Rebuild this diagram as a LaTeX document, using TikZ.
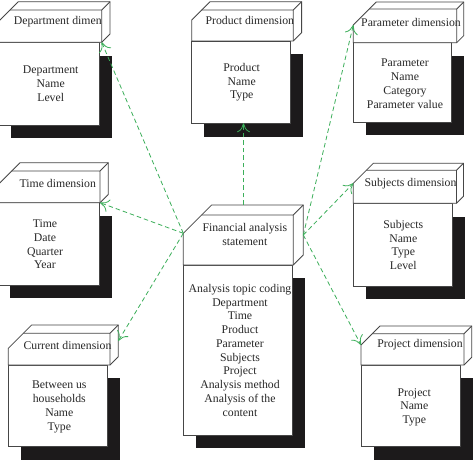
\documentclass[tikz,border=0pt]{standalone}
\usepackage{fontspec}
\setmainfont{Liberation Serif}
\usetikzlibrary{arrows.meta}
\definecolor{linec}{RGB}{70,70,70}
\definecolor{shadowc}{RGB}{28,26,27}
\definecolor{textc}{RGB}{40,40,40}
\definecolor{arrowc}{RGB}{60,175,90}
\tikzset{
  boxline/.style={draw=linec,line width=0.8bp},
  txt/.style={text=textc,inner sep=0pt,font=\fontsize{11.8}{13.8}\selectfont,align=center},
  link/.style={draw=arrowc,line width=0.8bp,dash pattern=on 4.5bp off 3bp,
    -{Computer Modern Rightarrow[length=9bp,width=13bp,line width=0.8bp]}},
}
% #1 name, #2 L, #3 T (back top), #4 R (front right), #5 depth,
% #6 chamfer left y, #7 header bottom, #8 body bottom, #9 body right
\newcommand\dimbox[9]{%
  \pgfmathsetmacro\bxTf{#3+#5}%
  \pgfmathsetmacro\bxXf{#2+#6-\bxTf}%
  \pgfmathsetmacro\bxXt{#2+#6-#3}%
  \pgfmathsetmacro\bxRo{#4+#5}%
  \pgfmathsetmacro\bxHs{#7-#5}%
  \pgfmathsetmacro\bxSm{(#3+\bxHs)/2}%
  \fill[shadowc] (#2+12.7,#7+13.3) rectangle (#9+12.7,#8+13.3);
  \draw[boxline,fill=white] (#2,#7) rectangle (#9,#8);
  \draw[boxline,fill=white] (#2,#7) -- (#2,#6) -- (\bxXt,#3) -- (\bxRo,#3)
     -- (\bxRo,\bxHs) -- (#4,#7) -- cycle;
  \draw[boxline] (\bxXf,\bxTf) -- (#4,\bxTf) -- (\bxRo,#3) (#4,\bxTf) -- (#4,#7);
  \coordinate (#1-chamfer) at (#2,#6);
  \coordinate (#1-hbr) at (#4,#7);
  \coordinate (#1-side) at (\bxRo,\bxSm);
}
\begin{document}
\begin{tikzpicture}[x=1bp,y=-1bp]
\useasboundingbox (0,0) rectangle (474,462);
\fill[white] (0,0) rectangle (474,462);

\dimbox{dept}{-2}{1.7}{101.7}{8.3}{22}{42.3}{125}{99.3}
\dimbox{prod}{191.7}{1.7}{293.3}{8.3}{20}{41}{123.3}{290}
\dimbox{param}{353.3}{2}{456.7}{7}{25}{42.7}{122}{451.7}
\dimbox{time}{-3}{162.7}{100}{8.3}{185.7}{202.7}{285}{99}
\dimbox{subj}{353.3}{163.3}{456.5}{7}{183.3}{203.3}{286}{452.3}
\dimbox{curr}{8.3}{325}{110}{8.3}{348.3}{365}{446.7}{107.3}
\dimbox{proj}{361}{326}{464}{7.7}{345}{365}{446.7}{460}
\dimbox{fin}{183.3}{205}{293.3}{10}{233.3}{265}{435}{292}

\coordinate (fin-top) at (243.5,205);
\coordinate (fin-east) at (303.3,235);
\coordinate (prod-bot) at (243.5,123.3);

\draw[link] (fin-chamfer) -- (dept-hbr);
\draw[link] (fin-chamfer) -- (time-hbr);
\draw[link] (fin-chamfer) -- (curr-side);
\draw[link] (fin-top) -- (prod-bot);
\draw[link] (fin-east) -- (param-chamfer);
\draw[link] (fin-east) -- (subj-chamfer);
\draw[link] (fin-east) -- (proj-chamfer);

\node[txt] (dept-title) at (57.8,21.7) {Department dimen};
\node[txt] (dept-body) at (50.7,83.7) {Department\\Name\\Level};
\node[txt] (prod-title) at (249.8,20) {Product dimension};
\node[txt] (prod-body) at (241.7,82.2) {Product\\Name\\Type};
\node[txt] (param-title) at (411,22.7) {Parameter dimension};
\node[txt] (param-body) at (405,83.7) {Parameter\\Name\\Category\\Parameter value};
\node[txt] (time-title) at (57.8,183.3) {Time dimension};
\node[txt] (time-body) at (45,244.5) {Time\\Date\\Quarter\\Year};
\node[txt] (subj-title) at (410.5,183.3) {Subjects dimension};
\node[txt] (subj-body) at (403.3,245) {Subjects\\Name\\Type\\Level};
\node[txt] (curr-title) at (67.5,345) {Current dimension};
\node[txt] (curr-body) at (59.3,407) {Between us\\households\\Name\\Type};
\node[txt] (proj-title) at (420,345) {Project dimension};
\node[txt] (proj-body) at (414.3,407.2) {Project\\Name\\Type};
\node[txt] (fin-title) at (244.8,234.8) {Financial analysis\\statement};
\node[txt] (fin-body) at (240,350.3) {Analysis topic coding\\Department\\Time\\Product\\Parameter\\Subjects\\Project\\Analysis method\\Analysis of the\\content};
\end{tikzpicture}
\end{document}
